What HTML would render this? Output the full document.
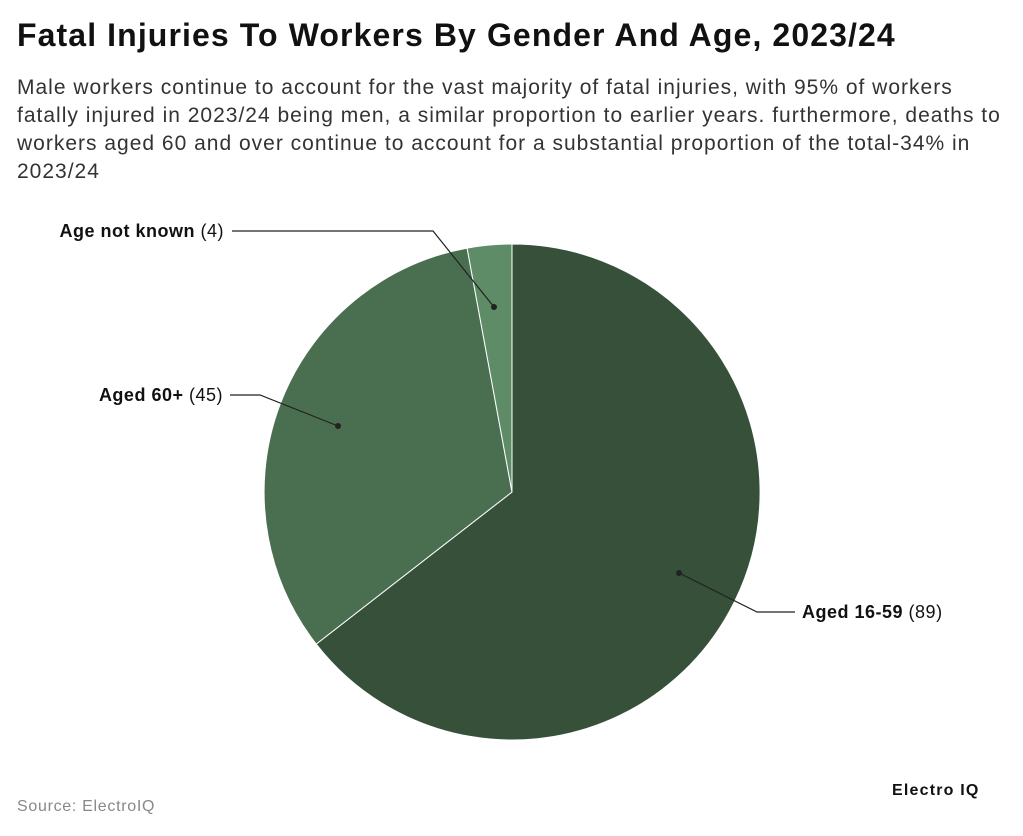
<!DOCTYPE html>
<html><head><meta charset="utf-8"><style>
html,body{margin:0;padding:0;background:#fff;}
body{width:1023px;height:836px;position:relative;overflow:hidden;font-family:"Liberation Sans",sans-serif;color:#222;}
.t{position:absolute;left:17px;top:17px;font-size:32px;font-weight:bold;color:#111;white-space:nowrap;letter-spacing:1.1px}
.s{position:absolute;left:17px;top:74px;font-size:21px;line-height:28px;color:#333;white-space:nowrap;letter-spacing:1px}
.src{position:absolute;left:17px;top:798px;font-size:16px;color:#888;letter-spacing:0.7px}
.logo{position:absolute;left:892px;top:782px;font-size:16px;font-weight:bold;color:#111;letter-spacing:1.2px}
</style></head><body>
<div class="t">Fatal Injuries To Workers By Gender And Age, 2023/24</div>
<div class="s">Male workers continue to account for the vast majority of fatal injuries, with 95% of workers<br>fatally injured in 2023/24 being men, a similar proportion to earlier years. furthermore, deaths to<br>workers aged 60 and over continue to account for a substantial proportion of the total-34% in<br>2023/24</div>
<svg width="1023" height="836" style="position:absolute;left:0;top:0">
<path d="M512,492 L512,244 A248,248 0 1 1 316.2,644.1 Z" fill="#36503a" stroke="#fff" stroke-width="1"/>
<path d="M512,492 L316.2,644.1 A248,248 0 0 1 467.1,248.1 Z" fill="#4a6e50" stroke="#fff" stroke-width="1"/>
<path d="M512,492 L467.1,248.1 A248,248 0 0 1 512,244 Z" fill="#5e8c66" stroke="#fff" stroke-width="1"/>
<g stroke="#222" stroke-width="1.2" fill="none">
<polyline points="679,573 757,612 795,612"/>
<polyline points="338,426 260,395 230,395"/>
<polyline points="494,307 433,231 232,231"/>
</g>
<g fill="#222"><circle cx="679" cy="573" r="3"/><circle cx="338" cy="426" r="3"/><circle cx="494" cy="307" r="3"/></g>
<g font-family="Liberation Sans, sans-serif" font-size="18" fill="#111" letter-spacing="0.5">
<text x="802" y="618"><tspan font-weight="bold">Aged 16-59</tspan> (89)</text>
<text x="223" y="401" text-anchor="end"><tspan font-weight="bold">Aged 60+</tspan> (45)</text>
<text x="224" y="237" text-anchor="end"><tspan font-weight="bold">Age not known</tspan> (4)</text>
</g>
</svg>
<div class="src">Source: ElectroIQ</div>
<div class="logo">Electro IQ</div>
</body></html>
